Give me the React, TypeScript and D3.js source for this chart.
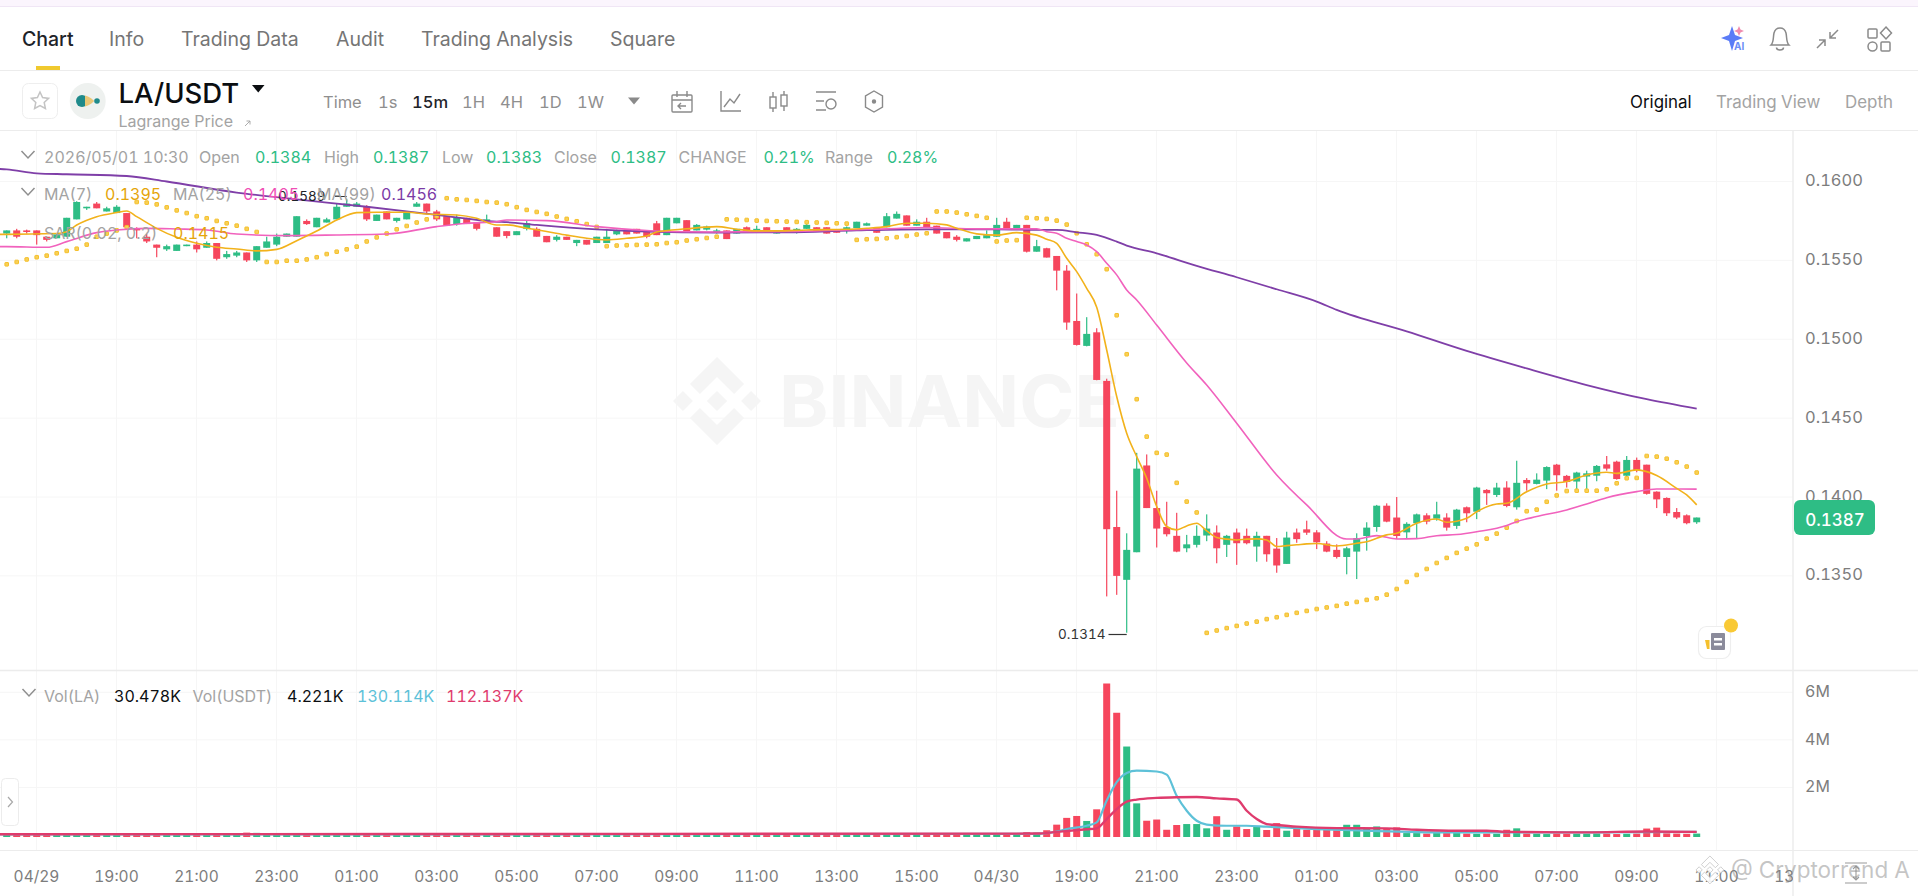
import React from "react";
import * as d3 from "d3";

// Prices are in units of 0.0001 (ticks). Volumes are in millions.
const opens = [1567,1569,1569,1569,1565,1564,1565,1576,1583,1586,1581,1580,1580,1570,1565,1560,1557,1556,1559,1560,1558,1561,1552,1553,1555,1550,1558,1560,1565,1565,1575,1571,1574,1576,1584,1584,1584,1575,1581,1575,1576,1584,1586,1581,1578,1573,1577,1574,1574,1571,
1568.5,1566,1570,1570,1565.5,1563,1565,1561,1563,1561,1561,1566.5,1569,1570,1569,1573.5,1566,1573.5,1575.5,1569,1569.5,1567.5,1569,1567,1571,1569,1571,1567,1571,1567.5,1570,1571,1571,1569,1569,1570.5,1572,1571,1571,1576.5,1578.5,1572,1574.5,1572,1568,1565,1562,1563.5,1564,1565,1574.5,1570,1572.5,1555.5,1557.7,
1552.8,1543.5,1511.6,1495.8,1504.4,1473.6,1381,1347.5,1365,1420,1393,1381,1375.4,1367.5,1369.7,1375.6,1377.5,1369.7,1377.5,1375.4,1368.6,1375.4,1367.3,1357.6,1377.5,1379.5,1377.6,1370.5,1366.5,1362,1365.4,1375.3,1381,1394.5,1387,1377.6,1383.4,1388.4,1386.3,1387,1381.7,1393.5,1390.7,1404.5,1401.3,1406,1393.5,1410.8,1408.3,1410.4,1420.5,1413.4,1409.8,1413,1413.5,1420.7,1422.4,1413.5,1423.5,1420.5,1403.4,1399.4,1390.5,1388.4,1384];
const closes = [1569,1565,1568,1566,1563,1566.5,1577,1587,1584,1583,1583,1584,1571,1569,1562,1558,1559,1560,1560,1557,1561,1551,1554,1555,1550,1559,1562,1565,1567,1578,1573,1577,1576,1584,1586,1586,1576,1579,1576,1577,1581,1586,1581,1576,1572,1577,1573,1570,1576,1565,
1565.5,1568.5,1573.5,1565,1561.5,1565,1563,1563,1560,1565,1565,1569,1566.5,1567,1565,1566,1577,1577,1568,1572.5,1571.5,1569,1563.5,1570,1568,1570,1568,1569,1569,1570,1572.5,1568,1567,1567.5,1571,1574.5,1573.5,1567.5,1578,1579.5,1572,1574.5,1570.5,1567,1564,1563,1564,1565.5,1566,1572.5,1570,1572.5,1555.5,1559,1551.8,
1543.5,1510.6,1496.4,1503.4,1474.2,1379.6,1350,1366.5,1418,1393,1380,1376.4,1365.4,1370,1375.4,1380,1367.5,1375.4,1370.7,1370.7,1375.4,1363.7,1356.6,1374.3,1373.3,1377.4,1371.3,1365.4,1362,1367.5,1374,1380.6,1394.5,1384.4,1375.3,1383,1389,1384.4,1389,1380.6,1392,1389.7,1406,1402.4,1406,1394.3,1409,1408.7,1411,1419,1413.8,1409.5,1415.5,1415,1419.7,1418,1411.4,1423.5,1417,1402,1398.5,1389.7,1387,1383.4,1387];
const highs = [1569,1570,1569.5,1569,1565,1567,1577,1587.5,1584,1587,1584,1585,1580,1571,1567,1560,1560,1560,1560,1562,1562,1561,1556,1556,1555,1559,1565,1567,1567,1578,1576,1577,1577,1586,1589,1587,1585,1579,1581,1577,1581,1587,1586,1582,1578,1579,1577,1574,1579,1571,
1568.5,1568.5,1575,1571,1565.5,1566,1565,1563,1563,1565,1570,1569.5,1569,1570,1569,1575,1577,1577,1575.5,1573,1572,1570,1569,1570,1571.5,1572,1571,1569,1571,1570.5,1573,1571,1571,1569,1571.5,1574.5,1574,1571,1580,1581,1578.5,1576,1577,1572,1568,1566,1564,1565.5,1569,1577,1577,1572.5,1572.5,1563,1558,
1552.8,1547,1529,1514,1507,1475,1404,1377,1428,1427,1404,1397,1390,1376,1382,1389,1382,1376,1380,1380,1378,1375.4,1374,1378,1380,1385,1379,1372,1370,1368.5,1377,1384,1395,1396,1400,1384,1389.5,1389.7,1397,1389.7,1392.5,1394,1406.5,1405,1409,1410,1423,1412,1415,1419.5,1421,1414,1416,1416.7,1420.3,1426,1423,1426,1425,1420.5,1403.6,1399.8,1393,1389,1387];
const lows = [1564,1564,1567,1560,1562,1564,1565,1576,1582,1583,1581,1580,1570,1564,1561,1552,1556,1556,1559,1555,1558,1550,1551,1552,1549,1549,1558,1559,1565,1565,1572.5,1571,1574,1576,1584,1584,1575,1575,1576,1574,1576,1584,1580,1575,1572,1572,1573,1569,1574,1565,
1564,1566,1569,1565,1561.5,1562,1563,1559,1560,1561,1561,1566,1566.5,1567,1564,1566,1566,1573.5,1568,1569,1569,1567,1563.5,1567,1568,1569,1568,1567,1569,1567,1570,1568,1567,1567.5,1567,1570.5,1572,1567.5,1571,1576.5,1572,1572,1570.5,1567,1564,1562,1562,1563.5,1564,1565,1570,1570,1555,1555.5,1551.8,
1531,1506,1496,1495.5,1474,1337,1338,1314,1365,1393,1368,1375,1365,1365,1368,1372,1358,1362,1357,1370,1359,1359,1352,1357.6,1371,1376,1367,1365,1361,1351,1348,1366,1378,1384,1373.4,1374,1373.4,1382.7,1385,1378.7,1379.8,1384,1386,1395,1400,1393.5,1392,1404,1408,1405,1404,1406,1405,1405,1410,1416.7,1411,1413,1415.7,1401.5,1393,1388,1386,1382.7,1383];

// Volume per candle, millions
const volumes = [.05,.04,.03,.05,.03,.03,.06,.07,.03,.03,.02,.03,.05,.02,.03,.04,.02,.03,.02,.03,.02,.05,.03,.04,.1,.09,.04,.05,.03,.07,.02,.03,.02,.05,.04,.03,.05,.03,.04,.02,.04,.05,.03,.03,.04,.03,.02,.03,.03,.04,
.03,.03,.04,.04,.03,.02,.02,.03,.03,.04,.05,.03,.02,.02,.03,.06,.07,.04,.04,.03,.02,.02,.04,.03,.03,.02,.03,.02,.02,.03,.03,.03,.03,.02,.03,.04,.02,.03,.07,.05,.05,.03,.04,.05,.05,.03,.02,.03,.05,.07,.06,.04,.12,.1,.2,
.435,.72,.8,.59,1.08,6.37,5.14,3.72,1.33,.6,.65,.22,.42,.46,.46,.28,.79,.22,.36,.25,.36,.21,.5,.18,.28,.22,.32,.22,.2,.43,.43,.28,.36,.28,.32,.08,.08,.06,.08,.08,.08,.06,.05,.06,.05,.22,.28,.06,.05,.04,.06,.05,.05,.05,.06,.06,.04,.05,.06,.27,.31,.07,.06,.05,.06];

// Parabolic SAR per candle; null where no dot is drawn
const sar: (number | null)[] = [1547.5,1549,1550.6,1552,1553,1554.5,1556,1557.4,1560,1565,1567,1569,1571,1587,1586.6,1585.5,1583.6,1581.7,1580,1578,1576.7,1575,1573.5,1572,1570,1568,1549,1549,1549.8,1549.8,1550.6,1552,1554,1555.5,1557,1558.7,1562,1564.6,1567,1569.7,1571.8,1574,1576,1578,1589.4,1588.7,1588.3,1587.7,1587,1586.6,
1585.6,1583.7,1582,1580.7,1579.5,1577.8,1576.3,1574.8,1573,1571.2,1559,1559.4,1559.6,1559.8,1560,1560.2,1561,1561.5,1562.6,1563.4,1564.2,1565,1576,1575.8,1575.6,1575.2,1575,1574.8,1574.6,1574.4,1574.2,1574,1573.8,1573.5,1573.3,1563,1563.4,1563.6,1564,1564.7,1565.5,1566.4,1567.2,1581,1581,1580.3,1579.2,1578.2,1577,1562,1562.6,1562.8,1577,1576.7,1576.3,
1575.2,1572.7,1567.2,1560.2,1553.9,1544.4,1515.2,1490.5,1462,1438.3,1428,1426.9,1409,1397.1,1390.2,1313.9,1315.4,1316.9,1318.3,1319.8,1321,1322.6,1323.8,1325.3,1326.6,1327.8,1329,1330,1331,1332.4,1333.5,1334.8,1335.8,1338.1,1341.7,1346.2,1350.6,1354.4,1358.2,1361.4,1364.6,1367.3,1370,1373.6,1376.8,1380.6,1384.8,1391,1392,1397,1401,1403.8,1404,1404,1404,1404.9,1408.7,1411.9,1412.1,1426,1425.6,1424.3,1422,1419.3,1415.5];

// Moving averages, read at the listed candle indexes
const ma7Idx = [-1,0,5,6,7,9,11,12,13,15,17,19,21,23,25,27,29,31,33,35,37,40,42,45,47,49,50,52,54,56,58,60,62,64,65,68,71,73,75,77,80,84,86,88,90,92,94,95,97,99,101,103,104,105,106,107,108,109,110,111,112,113,114,115,116,117,118,119,120,121,122,123,124,125,126,127,128,129,130,131,133,135,136,138,139,141,143,144,146,147,149,150,152,154,156,158,160,161,163,164,165,167,168,169];
const ma7Val = [1566.5,1566.5,1567,1568.2,1572.4,1577.7,1580.3,1581.3,1577.7,1570.3,1564.6,1560.8,1558.3,1557.2,1556,1557,1562.5,1568.6,1575.6,1580.3,1580.5,1580.5,1579.4,1578.8,1576.7,1572.4,1572.5,1570.4,1568.3,1566,1564,1563,1564,1565.5,1568,1570,1571.4,1569.7,1568.7,1568.7,1569.3,1569.7,1570.4,1571.4,1573.5,1573.5,1572.5,1570.4,1566.8,1566,1567.6,1566,1563.4,1560.8,1551.3,1542.9,1532.3,1520.3,1493.2,1463.7,1440.4,1425.6,1411.9,1394,1381.3,1379.2,1381.7,1383.4,1378.5,1374.3,1373.3,1372.8,1373.3,1373.5,1372.8,1368.6,1369.2,1369.7,1370.3,1370.5,1369,1370.7,1371.7,1376,1377,1383.4,1386.1,1384,1386.5,1390.7,1395.6,1396,1403.4,1408.3,1409.8,1414,1415.7,1415,1417.2,1416.1,1413.6,1405.5,1401.3,1395];
const ma25Idx = [-1,0,4,6,9,11,14,17,20,23,28,33,38,43,46,49,50,54,59,64,66,71,78,84,88,92,97,103,104,105,106,107,108,109,110,111,112,113,115,118,120,123,127,130,134,135,137,139,141,143,145,147,150,151,153,156,158,160,163,165,169];
const ma25Val = [1558.7,1558.7,1558.3,1561.9,1567.6,1569.3,1570.3,1569.9,1569.3,1566.7,1565.7,1566.1,1566.7,1571.4,1573.5,1574.5,1575.6,1575.2,1571.4,1568.9,1568.3,1568,1568.3,1569.3,1570,1570.8,1570,1570,1568.2,1567.2,1564,1561.9,1559.8,1555.6,1548.2,1540.8,1531.3,1524.9,1509,1485,1471,1446.8,1414,1395,1373.4,1373.4,1375.5,1373.4,1373.6,1375.5,1376.2,1378,1381.9,1384.4,1387.6,1391.8,1395.6,1399.6,1403.4,1405.1,1405];
const ma99Idx = [-1,0,3,6,12,16,23,29,36,43,49,50,53,59,64,71,78,85,92,99,104,105,107,109,111,112,115,119,123,127,131,133,140,146,152,158,164,169];
const ma99Val = [1608,1607.7,1605.2,1604.6,1603.5,1600,1593,1588.7,1584,1578.8,1574.5,1574.2,1572.5,1569.7,1568.3,1567.6,1567.8,1569,1569.7,1569.7,1569.3,1569.3,1567.8,1566.1,1561.9,1559.4,1554.5,1546.5,1539.3,1531.7,1523.9,1518.6,1505,1492.6,1481.5,1471,1462,1456];

// Volume averages
const volMaCyanIdx = [-1,50,103,104,105,106,108,109,110,111,112,113,115,116,117,118,119,120,122,124,126,131,136,144,155,169];
const volMaCyanVal = [.03,.03,.05,.08,.14,.25,.39,.53,1.45,2.22,2.61,2.71,2.67,2.54,1.65,1.02,.6,.44,.39,.39,.35,.25,.18,.11,.11,.13];
const volMaRedIdx = [-1,40,103,105,108,109,110,111,112,113,115,117,119,121,123,124,125,126,127,129,133,138,141,145,148,150,158,164,169];
const volMaRedVal = [.03,.04,.06,.13,.24,.28,.67,1.09,1.4,1.49,1.56,1.59,1.6,1.54,1.49,1.02,.67,.46,.42,.35,.29,.28,.22,.18,.18,.13,.11,.15,.13];

const priceTicks = ["0.1600","0.1550","0.1500","0.1450","0.1400","0.1350"];
const volTicks = [2, 4, 6];
const timeLabels = ["04/29","19:00","21:00","23:00","01:00","03:00","05:00","07:00","09:00","11:00","13:00","15:00","04/30","19:00","21:00","23:00","01:00","03:00","05:00","07:00","09:00","11:00","13:00"];

const navTabs: [string, number][] = [["Chart",22],["Info",109],["Trading Data",181],["Audit",336],["Trading Analysis",421],["Square",610]];
const intervals: [string, number][] = [["Time",323],["1s",378],["15m",412],["1H",462],["4H",500],["1D",539],["1W",577]];
const viewTabs: [string, number][] = [["Original",1630],["Trading View",1716],["Depth",1845]];

const GREEN = "#2ebd85", RED = "#f6465d", GRAY = "#a3a3a3", AXIS = "#7d7d7d", GRID = "#f6f6f6", LINE = "#ececec";
const FONT = "Inter, 'Noto Sans', sans-serif";
const LOGO = "M38.73 53.2l24.59-24.58 24.6 24.6 14.3-14.31L63.32 0 24.43 38.9l14.3 14.3zM0 63.31L14.3 49l14.31 14.31-14.31 14.3zM38.73 73.41l24.59 24.59 24.6-24.6 14.31 14.29-38.9 38.91-38.91-38.88-.02-.02zM98.01 63.31L112.31 49l14.3 14.31-14.31 14.3zM77.83 63.3L63.32 48.78 52.59 59.51l-1.24 1.23-2.54 2.54 14.51 14.5 14.5-14.47z";

const x = d3.scaleLinear().domain([0, 169]).range([6.7, 1696.7]);
const y = d3.scaleLinear().domain([1600, 1350]).range([181.5, 575.9]);
const yv = d3.scaleLinear().domain([0, 6]).range([835, 692.3]);
const xTime = d3.scaleLinear().domain([0, 22]).range([36.5, 1796.5]);

function pairs(idx: number[], val: number[]) { return idx.map((k, i) => [k, val[i]] as [number, number]); }
const priceLine = d3.line<[number, number]>().x(d => x(d[0])).y(d => y(d[1])).curve(d3.curveMonotoneX);
const volLine = d3.line<[number, number]>().x(d => x(d[0])).y(d => yv(d[1])).curve(d3.curveMonotoneX);

function Chevron({ cx, cy }: { cx: number; cy: number }) {
  return <path d={`M${cx - 6.5} ${cy - 4}L${cx} ${cy + 3}L${cx + 6.5} ${cy - 4}`} fill="none" stroke="#8f8f8f" strokeWidth={1.5} />;
}

function T({ x: tx, y: ty, fill = GRAY, size = 16, children, weight = 400, anchor = "start" }: any) {
  return <text x={tx} y={ty} fill={fill} fontSize={size} fontWeight={weight} textAnchor={anchor} dominantBaseline="central">{children}</text>;
}

export default function App() {
  const bodyW = 7;
  return (
    <svg width={1918} height={896} viewBox="0 0 1918 896" fontFamily={FONT}
      style={{ position: "fixed", left: 0, top: 0, display: "block", background: "#fff", fontFeatureSettings: '"tnum"' }}>
      <defs>
        <clipPath id="plot"><rect x={0} y={130} width={1793} height={720} /></clipPath>
        <clipPath id="timeClip"><rect x={0} y={851} width={1793} height={45} /></clipPath>
      </defs>
      {/* top strip */}
      <rect x={0} y={0} width={1918} height={6} fill="#fbf5fd" />
      <line x1={0} x2={1918} y1={6.5} y2={6.5} stroke="#f0e6f5" />

      {/* nav */}
      {navTabs.map(([t, px], i) => (
        <T key={t} x={px} y={39} size={19.5} fill={i === 0 ? "#1e2329" : "#757575"} weight={i === 0 ? 500 : 400}>{t}</T>
      ))}
      <rect x={36} y={66} width={24} height={4} fill="#f0c92e" />
      <line x1={0} x2={1918} y1={70.5} y2={70.5} stroke={LINE} />
      <line x1={0} x2={1918} y1={130.5} y2={130.5} stroke={LINE} />

      {/* right top icons */}
      <g>
        <path d="M1732 28l3 9 8 3-8 3-3 10-3-10-8-3 8-3z" fill="#5b7cf7" transform="translate(0,-2)" />
        <path d="M1738 27l1.5 3.5 3.500 1.500-3.500 1.500-1.500 3.500-1.500-3.500-3.500-1.500 3.500-1.500z" fill="#f08cae" transform="translate(1,-1)" />
        <text x={1734} y={50} fontSize={10} fontWeight={700} fill="#6d8cf7">AI</text>
        <path d="M1771 45c3-3 2-8 3-12 1-4 4-5 6-5s5 1 6 5c1 4 0 9 3 12z M1776.500 47.500a3.500 2.500 0 0 0 7 0" fill="none" stroke="#8a8a8a" strokeWidth={1.5} />
        <path d="M1838 30l-8 8M1830 32v6h6M1817 48l8-8M1825 46v-6h-6" fill="none" stroke="#8a8a8a" strokeWidth={1.5} />
        <rect x={1868} y={29} width={9} height={9} rx={1} fill="none" stroke="#8a8a8a" strokeWidth={1.5} />
        <path d="M1886 27l5.500 6-5.500 6-5.500-6z" fill="none" stroke="#8a8a8a" strokeWidth={1.5} />
        <rect x={1868} y={42} width={9} height={9} rx={4.5} fill="none" stroke="#8a8a8a" strokeWidth={1.5} />
        <rect x={1881} y={42} width={9} height={9} rx={1} fill="none" stroke="#8a8a8a" strokeWidth={1.5} />
      </g>

      {/* symbol row */}
      <rect x={22.5} y={83.5} width={35} height={35} rx={6} fill="#fff" stroke="#eeeeee" />
      <path d="M40 92l2.600 5.600 6 .8-4.400 4.100 1.200 6-5.400-3-5.400 3 1.200-6-4.400-4.100 6-.8z" fill="none" stroke="#c4c4c4" strokeWidth={1.5} />
      <circle cx={87.7} cy={101} r={18} fill="#eef1ef" />
      <circle cx={82} cy={101} r={6} fill="#1f8a8a" />
      <path d="M85 95.500c4 1 8 4 9 5.500-1 1.500-5 4.500-9 5.500z" fill="#e9c777" />
      <circle cx={97} cy={101} r={2.8} fill="#1f8a8a" />
      <text x={118.500} y={102.500} fontSize={27.500} fontWeight={500} fill="#0b0e11">LA/USDT</text>
      <path d="M252 85h12.500l-6.250 7.500z" fill="#0b0e11" />
      <text x={118.500} y={127} fontSize={16} fill="#a3a3a3">Lagrange Price</text>
      <path d="M245 126l5-5M246.500 121h3.500v3.500" fill="none" stroke="#a3a3a3" strokeWidth={0.9} />
      {intervals.map(([t, px]) => (
        <T key={t} x={px} y={102} size={16.5} fill={t === "15m" ? "#1e2329" : "#8f8f8f"} weight={t === "15m" ? 500 : 400}>{t}</T>
      ))}
      <path d="M628 97.500h12l-6 7z" fill="#8a8a8a" />
      <g fill="none" stroke="#8a8a8a" strokeWidth={1.4}>
        <rect x={672} y={95} width={20} height={17} rx={1} />
        <path d="M672 100h20M677 91v6M687 91v6M686 106h-8M681 103l-3 3 3 3" />
        <path d="M721 91v20h20M724 107l6-8 4 4 6-9" />
        <rect x={770} y={97} width={6} height={11} /><path d="M773 92v5M773 108v4" />
        <rect x={781} y={95} width={6} height={11} /><path d="M784 91v4M784 106v5" />
        <path d="M816 92h20M816 101h8M816 110h10" /><circle cx={831} cy={104} r={5} />
        <path d="M874 91l8.500 5v11l-8.500 5-8.500-5v-11z" /><circle cx={874} cy={101.500} r={1.500} fill="#8a8a8a" />
      </g>
      {viewTabs.map(([t, px], i) => (
        <T key={t} x={px} y={102} size={16.9} fill={i === 0 ? "#0b0e11" : "#a3a3a3"}>{t}</T>
      ))}

      {/* gridlines */}
      <g stroke={GRID}>
        {timeLabels.slice(0, 22).map((t, i) => <line key={i} x1={xTime(i)} x2={xTime(i)} y1={131} y2={850} />)}
        {priceTicks.map(t => <line key={t} x1={0} x2={1793} y1={y(+t * 10000)} y2={y(+t * 10000)} />)}
        {volTicks.map(t => <line key={t} x1={0} x2={1793} y1={yv(t)} y2={yv(t)} />)}
      </g>
      <line x1={0} x2={1918} y1={670.5} y2={670.5} stroke={LINE} strokeWidth={1.5} />
      <line x1={0} x2={1918} y1={850.5} y2={850.5} stroke={LINE} />
      <line x1={1793} x2={1793} y1={131} y2={896} stroke={LINE} strokeWidth={1.5} />

      {/* Binance watermark */}
      <path d={LOGO} transform="translate(673,357) scale(0.695)" fill="#f5f5f5" />
      <text x={779} y={427} fontSize={72} fontWeight={700} fill="#f5f5f5" textLength={341} lengthAdjust="spacingAndGlyphs">BINANCE</text>

      <g clipPath="url(#plot)">
        {/* candles */}
        {opens.map((o, k) => {
          const c = closes[k];
          const col = c >= o ? GREEN : RED;
          const top = y(Math.max(o, c)), bot = y(Math.min(o, c));
          return (
            <g key={k} fill={col}>
              <rect x={x(k) - 0.6} y={y(highs[k])} width={1.2} height={y(lows[k]) - y(highs[k])} />
              <rect x={x(k) - bodyW / 2} y={top} width={bodyW} height={Math.max(bot - top, 1)} />
            </g>
          );
        })}
        {/* SAR */}
        {sar.map((s, k) => s == null ? null : (
          <rect key={k} x={x(k) - 1.8} y={y(s) - 1.8} width={3.6} height={3.6} rx={0.5} fill="#f8d057" stroke="#f5c02c" strokeWidth={1} />
        ))}
        {/* MAs */}
        <path d={priceLine(pairs(ma99Idx, ma99Val)) as string} fill="none" stroke="#7f3fa8" strokeWidth={1.8} />
        <path d={priceLine(pairs(ma25Idx, ma25Val)) as string} fill="none" stroke="#f162bd" strokeWidth={1.6} />
        <path d={priceLine(pairs(ma7Idx, ma7Val)) as string} fill="none" stroke="#f2b21b" strokeWidth={1.6} />
        {/* volume */}
        {volumes.map((v, k) => (
          <rect key={k} x={x(k) - bodyW / 2} y={yv(v)} width={bodyW} height={yv(0) + 2 - yv(v)} fill={closes[k] >= opens[k] ? GREEN : RED} />
        ))}
        <path d={volLine(pairs(volMaCyanIdx, volMaCyanVal)) as string} fill="none" stroke="#5dc1d8" strokeWidth={2.2} />
        <path d={volLine(pairs(volMaRedIdx, volMaRedVal)) as string} fill="none" stroke="#df3b6d" strokeWidth={2.4} />
      </g>

      {/* extremes */}
      <T x={278} y={196} size={13.5} fill="#1e2329">0.1589</T>
      <line x1={335} x2={x(34)} y1={196.500} y2={196.500} stroke="#333" />
      <T x={1058} y={634} size={13.5} fill="#333" anchor="start">0.1314</T>
      <line x1={1108.500} x2={x(112)} y1={634.500} y2={634.500} stroke="#333" strokeWidth={1.2} />

      {/* legend rows */}
      <Chevron cx={28} cy={155} />
      <T x={44} y={157}>2026/05/01 10:30</T>
      <T x={199} y={157}>Open</T><T x={255} y={157} fill={GREEN}>0.1384</T>
      <T x={324} y={157}>High</T><T x={373} y={157} fill={GREEN}>0.1387</T>
      <T x={442} y={157}>Low</T><T x={486} y={157} fill={GREEN}>0.1383</T>
      <T x={554} y={157}>Close</T><T x={610.500} y={157} fill={GREEN}>0.1387</T>
      <T x={678.500} y={157}>CHANGE</T><T x={763.600} y={157} fill={GREEN}>0.21%</T>
      <T x={825} y={157}>Range</T><T x={887} y={157} fill={GREEN}>0.28%</T>

      <Chevron cx={28} cy={192} />
      <T x={44} y={194}>MA(7)</T><T x={105} y={194} fill="#e5a50a">0.1395</T>
      <T x={173} y={194}>MA(25)</T><T x={243} y={194} fill="#f04fb5">0.1405</T>
      <T x={317} y={194}>MA(99)</T><T x={381} y={194} fill="#7b3aa6">0.1456</T>
      <T x={44} y={233}>SAR(0.02, 0.2)</T><T x={173} y={233} fill="#e5a50a">0.1415</T>

      <Chevron cx={29} cy={693} />
      <T x={44} y={695.500}>Vol(LA)</T><T x={114} y={695.500} fill="#0b0e11">30.478K</T>
      <T x={192.500} y={695.500}>Vol(USDT)</T><T x={287} y={695.500} fill="#0b0e11">4.221K</T>
      <T x={357} y={695.500} fill="#5dc1d8">130.114K</T>
      <T x={446} y={695.500} fill="#df3b6d">112.137K</T>

      {/* sidebar handle */}
      <rect x={1.500} y={778.500} width={17} height={47} rx={4} fill="#fff" stroke="#ececec" />
      <path d="M8 797l4.500 5-4.500 5" fill="none" stroke="#a8a8a8" strokeWidth={1.2} />

      {/* axes */}
      {priceTicks.map(t => <T key={t} x={1805} y={y(+t * 10000) - 1.5} size={16.5} fill={AXIS}>{t}</T>)}
      {volTicks.map(t => <T key={t} x={1805} y={yv(t) - 1} size={16} fill={AXIS}>{`${t}M`}</T>)}
      <g clipPath="url(#timeClip)">
        {timeLabels.map((t, i) => <T key={i} x={xTime(i)} y={876} size={15.5} fill={AXIS} anchor="middle">{t}</T>)}
      </g>

      {/* last price tag */}
      <rect x={1794} y={500} width={81} height={35} rx={6} fill={GREEN} />
      <T x={1835} y={520} size={17} fill="#fff" weight={500} anchor="middle">0.1387</T>

      {/* note button */}
      <rect x={1698.500} y={626.500} width={32} height={32} rx={8} fill="#fff" stroke="#eeeeee" strokeWidth={1.2} />
      <circle cx={1731} cy={625.500} r={7} fill="#f9c935" />
      <rect x={1711} y={633} width={14} height={17} rx={1} fill="#8b8b9b" />
      <rect x={1714} y={638} width={8} height={2.500} fill="#fff" />
      <rect x={1714} y={643} width={8} height={2.500} fill="#fff" />
      <path d="M1705 640h4.500v9h-2.500z" fill="#f5c02c" />

      {/* bottom-right */}
      <path d="M1845 863h22M1845 883h22M1856 866v14M1853 869l3-3 3 3M1853 877l3 3 3-3" fill="none" stroke="#9a9a9a" strokeWidth={1.1} />
      <path d={LOGO} transform="translate(1696,856) scale(0.22)" fill="#fff" fillOpacity={0.9} stroke="#c8c8c8" strokeWidth={4} />
      <text x={1731} y={878} fontSize={22.5} fill="#8c8c8c" fillOpacity={0.5}>@ Cryptorrend A</text>
    </svg>
  );
}
